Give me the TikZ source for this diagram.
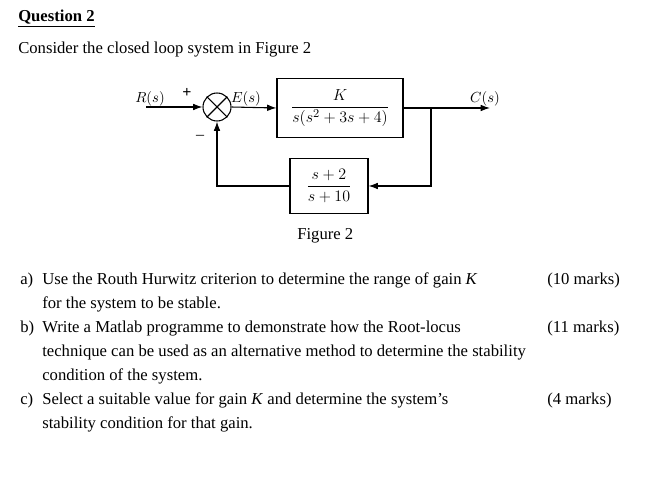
\documentclass[tikz,border=0pt]{standalone}
\usepackage{fontspec}
\setmainfont{Liberation Serif}
\usetikzlibrary{arrows.meta}
\begin{document}
\begin{tikzpicture}[x=0.75pt,y=-0.75pt,
 txt/.style={anchor=base west,inner sep=0,font=\fontsize{12.5pt}{14pt}\selectfont},
 blk/.style={draw,thick,minimum width=94.5pt,minimum height=44pt},
 lab/.style={font=\fontsize{10.5pt}{12pt}\selectfont,inner sep=1pt},
 ar/.style={thick,-{Latex[length=7pt,width=5pt]}}]
\useasboundingbox (0,0) rectangle (665,484);
\node[txt,font=\fontsize{12.5pt}{14pt}\selectfont\bfseries] (q) at (18,22) {\underline{Question 2}};
\node[txt] (c) at (18,54) {Consider the closed loop system in Figure 2};
% diagram
\node[draw,thick,circle,minimum size=21pt,inner sep=0] (sum) at (217,107) {};
\draw[thick] (sum.north west)--(sum.south east) (sum.north east)--(sum.south west);
\node[blk] (g) at (340,108) {\fontsize{12.5pt}{14pt}\selectfont $\displaystyle\frac{K}{s(s^2+3s+4)}$};
\node[blk,minimum width=58.5pt,minimum height=41pt] (h) at (329,186) {\fontsize{12.5pt}{14pt}\selectfont $\displaystyle\frac{s+2}{s+10}$};
\coordinate (rin) at (146,107);
\coordinate (br) at (431,108);
\coordinate (out) at (490,108);
\node[lab] (R) at (150,99) {$R(s)$};
\node[lab] (E) at (246,99) {$E(s)$};
\node[lab] (C) at (485,99) {$C(s)$};
\node[font=\bfseries\large] (p) at (187,93) {+};
\node[font=\large] (m) at (200,137) {--};
\draw[ar] (rin)--(sum.west);
\draw[ar] (sum.east)--(g.west);
\draw[ar] (g.east)--(out);
\draw[ar] (br)|-(h.east);
\draw[ar] (h.west)-|(sum.south);
\node[txt] (f) at (297,240) {Figure 2};
% questions
\foreach \y/\t in {285/{a)},333/{b)},405/{c)}} \node[txt] at (20,\y) {\t};
\node[txt] at (42,285) {Use the Routh Hurwitz criterion to determine the range of gain \textit{K}};
\node[txt] at (42,309) {for the system to be stable.};
\node[txt] at (42,333) {Write a Matlab programme to demonstrate how the Root-locus};
\node[txt] at (42,357) {technique can be used as an alternative method to determine the stability};
\node[txt] at (42,381) {condition of the system.};
\node[txt] at (42,405) {Select a suitable value for gain \textit{K} and determine the system’s};
\node[txt] at (42,429) {stability condition for that gain.};
\node[txt] at (547,285) {(10 marks)};
\node[txt] at (547,333) {(11 marks)};
\node[txt] at (547,405) {(4 marks)};
\end{tikzpicture}
\end{document}
